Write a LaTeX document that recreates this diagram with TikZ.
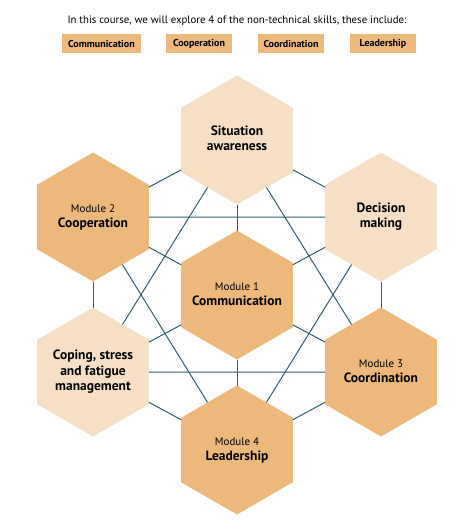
\documentclass[tikz,border=0pt]{standalone}
\usepackage{fontspec}
\setmainfont{PT Sans}
\usetikzlibrary{shapes.geometric}
\definecolor{darkhex}{HTML}{ECB87B}
\definecolor{lighthex}{HTML}{F6DFC5}
\definecolor{linkc}{HTML}{2F5E73}
\newcommand{\hxtext}[1]{\makebox[0pt]{\begin{tabular}{@{}c@{}}#1\end{tabular}}}
\newcommand{\modl}[1]{{\mdseries\fontsize{11}{13}\selectfont Module #1}}
\begin{document}
\begin{tikzpicture}[x=1pt,y=-1pt,
  hexa/.style={regular polygon, regular polygon sides=6, shape border rotate=30,
    minimum size=129pt, inner sep=0pt, outer sep=0pt, text=black,
    font=\fontsize{13.5}{15.5}\selectfont\bfseries},
  modhex/.style={hexa, fill=darkhex},
  skillhex/.style={hexa, fill=lighthex},
  link/.style={draw=linkc, line width=1pt},
  tagbox/.style={fill=darkhex, minimum height=19pt, inner sep=0pt, text=black,
    font=\fontsize{10}{12}\selectfont\bfseries}]
\useasboundingbox (0,0) rectangle (474,531);

\node[font=\fontsize{10.8}{12}\selectfont] (head) at (237,21)
  {In this course, we will explore 4 of the non-technical skills, these include:};
\node[tagbox, minimum width=79pt] (t1) at (101.5,43.5) {Communication};
\node[tagbox, minimum width=66pt] (t2) at (199,43.5) {Cooperation};
\node[tagbox, minimum width=66pt] (t3) at (291,43.5) {Coordination};
\node[tagbox, minimum width=66pt] (t4) at (383,43.5) {Leadership};

\node[skillhex] (sa) at (237,140) {\hxtext{Situation\\awareness}};
\node[modhex] (coop) at (93,217) {\hxtext{\modl{2}\\Cooperation}};
\node[skillhex] (dm) at (381,217) {\hxtext{Decision\\making}};
\node[modhex] (comm) at (237,295) {\hxtext{\modl{1}\\Communication}};
\node[skillhex] (cop) at (93,372) {\hxtext{Coping, stress\\and fatigue\\management}};
\node[modhex] (coord) at (381,372) {\hxtext{\modl{3}\\Coordination}};
\node[modhex] (lead) at (237,450) {\hxtext{\modl{4}\\Leadership}};

\draw[link] (sa) -- (coop);
\draw[link] (sa) -- (dm);
\draw[link] (sa) -- (comm);
\draw[link] (coop) -- (dm);
\draw[link] (coop) -- (comm);
\draw[link] (dm) -- (comm);
\draw[link] (coop) -- (cop);
\draw[link] (dm) -- (coord);
\draw[link] (cop) -- (coord);
\draw[link] (cop) -- (comm);
\draw[link] (coord) -- (comm);
\draw[link] (cop) -- (lead);
\draw[link] (coord) -- (lead);
\draw[link] (comm) -- (lead);
\draw[link] (sa) -- (cop);
\draw[link] (sa) -- (coord);
\draw[link] (coop) -- (lead);
\draw[link] (dm) -- (lead);
\end{tikzpicture}
\end{document}
